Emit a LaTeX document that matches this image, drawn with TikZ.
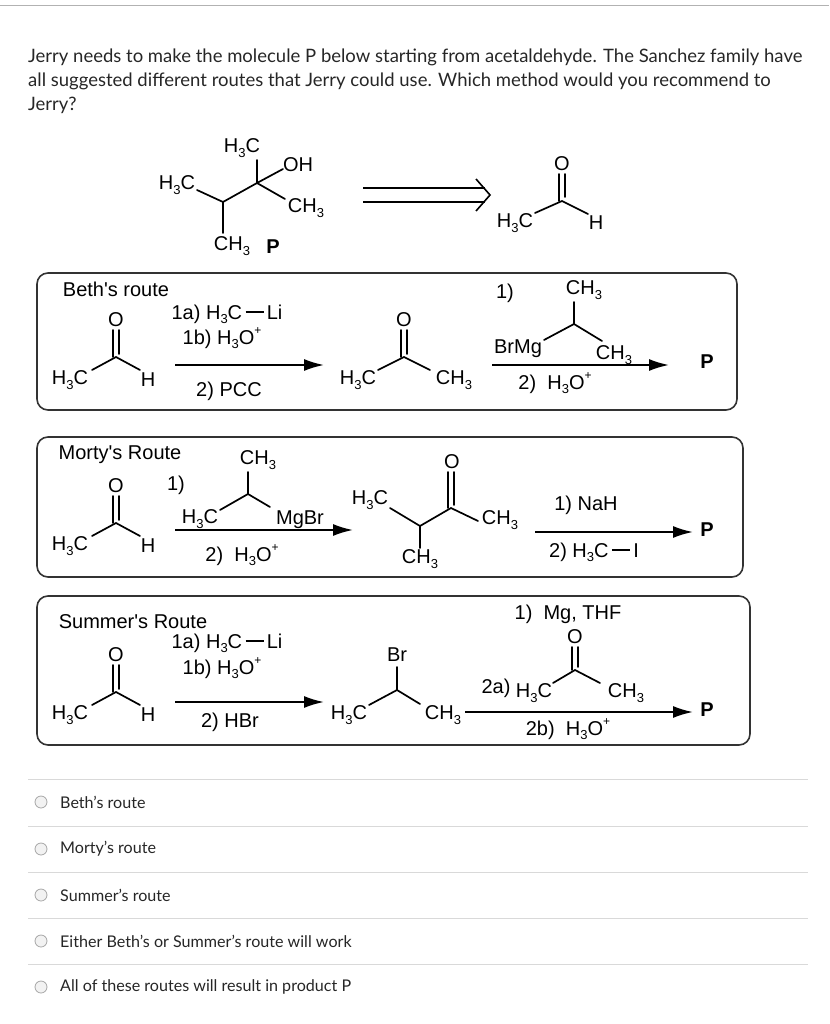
\documentclass[tikz,border=0pt]{standalone}
\usepackage{fontspec}
\setmainfont{Lato}
\newfontfamily\chemf{Liberation Sans}
\usetikzlibrary{arrows.meta}
\newcommand\sbs[1]{\raisebox{-0.4ex}{\fontsize{13}{13}\selectfont #1}}
\newcommand\spp[1]{\raisebox{0.9ex}{\fontsize{12}{12}\selectfont #1}}
\newcommand\hoc{H\sbs{3}C}
\newcommand\chh{CH\sbs{3}}
\newcommand\hho{H\sbs{3}O\spp{+}}
\newcommand\bnd{\rule[0.3em]{0.9em}{1.6pt}}
\begin{document}
\begin{tikzpicture}[x=1pt,y=-1pt,
  ch/.style={inner sep=0,font=\chemf\fontsize{20}{20}\selectfont},
  q/.style={inner sep=0,anchor=west,font=\fontsize{18.5}{18.5}\selectfont,text=black!85},
  opt/.style={inner sep=0,anchor=west,font=\fontsize{16.1}{16.1}\selectfont,text=black!85},
  b/.style={line width=1.7pt,line cap=round},
  box/.style={draw=black!80,line width=1.6pt,rounded corners=11},
  rx/.style={line width=1.9pt,-{Latex[length=20,width=12]}},
  sep/.style={draw=black!15,line width=0.8pt},
  rad/.style={draw=black!35,fill=black!5,line width=0.8pt}]
\useasboundingbox (0,0) rectangle (829,1024);
\draw[black!30] (0,5) -- (829,5);
\node[q] (t1) at (28,57) {Jerry needs to make the molecule P below starting from acetaldehyde. The Sanchez family have};
\node[q] (t2) at (28,81) {all suggested different routes that Jerry could use. Which method would you recommend to};
\node[q] (t3) at (28,105) {Jerry?};
% molecule P
\node[ch] (p1) at (177,185) {\hoc};
\node[ch] (p2) at (242,148) {\hoc};
\node[ch] (p3) at (298,165) {OH};
\node[ch] (p4) at (306,208) {\chh};
\node[ch] (p5) at (232,246) {\chh};
\node[ch,font=\chemf\bfseries\fontsize{20}{20}\selectfont] (pP) at (273,247) {P};
\coordinate (pc) at (257,183); \coordinate (pa) at (223,202);
\draw[b] (197,190) -- (pa) -- (pc) -- (257,160);
\draw[b] (pa) -- (223,233);
\draw[b] (pc) -- (283,169);
\draw[b] (pc) -- (285,199);
% retro arrow
\draw[line width=1.6pt] (363,188) -- (485,188) (363,202) -- (485,202);
\draw[line width=1.6pt,line join=miter] (476,179) -- (490,195) -- (476,211);
% acetaldehyde top
\node[ch] (a1) at (562,164) {O};
\node[ch] (a2) at (515,223) {\hoc};
\node[ch] (a3) at (596,223) {H};
\draw[b] (535,213) -- (562,201) -- (588,214);
\draw[b] (559,174) -- (559,201) (565,174) -- (565,197);
% Boxes
\draw[box] (37,273) rectangle (737,410);
\draw[box] (37,437) rectangle (743,577);
\draw[box] (37,596) rectangle (750,745);
% acetaldehyde in each box
\foreach \cy/\nm in {357/b,523/m,692/s}{
  \node[ch] (\nm O) at (116,\cy-37) {O};
  \node[ch] (\nm L) at (70,\cy+23) {\hoc};
  \node[ch] (\nm H) at (148,\cy+23) {H};
  \draw[b] (92,\cy+13) -- (116,\cy) -- (140,\cy+13);
  \draw[b] (113,\cy-27) -- (113,\cy) (119,\cy-27) -- (119,\cy-3);
}
% Beth
\node[ch] (bt) at (116,289) {Beth's route};
\node[ch] (br1) at (227,314) {1a) \hoc\,\bnd\,Li};
\node[ch] (br2) at (222,338) {1b) \hho};
\coordinate (ba1) at (175,365); \coordinate (ba2) at (324,365);
\draw[rx] (ba1) -- (ba2);
\node[ch] (br3) at (229,391) {2) PCC};
\node[ch] (bkO) at (404,320) {O};
\node[ch] (bkL) at (358,380) {\hoc};
\node[ch] (bkR) at (454,380) {\chh};
\draw[b] (378,370) -- (404,357) -- (430,370);
\draw[b] (401,330) -- (401,357) (407,330) -- (407,354);
\node[ch] (bs1) at (505,293) {1)};
\node[ch] (bs2) at (584,290) {\chh};
\node[ch] (bs3) at (518,349) {BrMg};
\node[ch] (bs4) at (614,355) {\chh};
\draw[b] (544,340) -- (574,324) -- (602,341);
\draw[b] (574,324) -- (574,302);
\coordinate (bb1) at (492,365); \coordinate (bb2) at (669,365);
\draw[rx] (bb1) -- (bb2);
\node[ch] (bs5) at (555,383) {2)\ \ \hho};
\node[ch,font=\chemf\bfseries\fontsize{20}{20}\selectfont] (bP) at (707,362) {P};
% Morty
\node[ch] (mt) at (120,455) {Morty's Route};
\node[ch] (mr1) at (176,485) {1)};
\node[ch] (mr2) at (258,460) {\chh};
\node[ch] (mr3) at (200,519) {\hoc};
\node[ch] (mr4) at (300,520) {MgBr};
\draw[b] (220,510) -- (248,494) -- (270,507);
\draw[b] (248,494) -- (248,472);
\coordinate (ma1) at (175,530); \coordinate (ma2) at (353,530);
\draw[rx] (ma1) -- (ma2);
\node[ch] (mr5) at (242,555) {2)\ \ \hho};
\node[ch] (mk1) at (370,500) {\hoc};
\node[ch] (mk2) at (420,559) {\chh};
\node[ch] (mk3) at (452,462) {O};
\node[ch] (mk4) at (500,520) {\chh};
\draw[b] (390,508) -- (420,526) -- (451,508) -- (478,521);
\draw[b] (420,526) -- (420,548);
\draw[b] (448,472) -- (448,508) (454,472) -- (454,505);
\coordinate (mb1) at (535,532); \coordinate (mb2) at (693,532);
\draw[rx] (mb1) -- (mb2);
\node[ch] (mr6) at (586,505) {1) NaH};
\node[ch] (mr7) at (594,552) {2) \hoc\,\bnd\,I};
\node[ch,font=\chemf\bfseries\fontsize{20}{20}\selectfont] (mP) at (707,530) {P};
% Summer
\node[ch] (st) at (133,622) {Summer's Route};
\node[ch] (sr1) at (227,643) {1a) \hoc\,\bnd\,Li};
\node[ch] (sr2) at (222,668) {1b) \hho};
\coordinate (sa1) at (175,702); \coordinate (sa2) at (324,702);
\draw[rx] (sa1) -- (sa2);
\node[ch] (sr3) at (230,722) {2) HBr};
\node[ch] (sb1) at (397,655) {Br};
\node[ch] (sb2) at (349,715) {\hoc};
\node[ch] (sb3) at (443,715) {\chh};
\draw[b] (369,705) -- (397,690) -- (420,704);
\draw[b] (397,690) -- (397,667);
\node[ch] (ss1) at (568,614) {1)\ \ Mg, THF};
\node[ch] (ss2) at (575,637) {O};
\node[ch] (ss3) at (496,688) {2a)};
\node[ch] (ss4) at (534,693) {\hoc};
\node[ch] (ss5) at (626,693) {\chh};
\draw[b] (553,683) -- (575,670) -- (600,683);
\draw[b] (572,647) -- (572,670) (578,647) -- (578,667);
\coordinate (sb4) at (465,712); \coordinate (sb5) at (693,712);
\draw[rx] (sb4) -- (sb5);
\node[ch] (ss6) at (568,729) {2b)\ \ \hho};
\node[ch,font=\chemf\bfseries\fontsize{20}{20}\selectfont] (sP) at (707,710) {P};
% options
\foreach \y in {779,826,872,918,964}{\draw[sep] (28,\y) -- (808,\y);}
\foreach \y/\t [count=\i] in {802/Beth's route,849/Morty's route,895/Summer's route,941/Either Beth's or Summer's route will work,987/All of these routes will result in product P}{
  \draw[rad] (41,\y) circle (6);
  \node[opt] (o\i) at (60,\y) {\t};
}
\end{tikzpicture}
\end{document}
